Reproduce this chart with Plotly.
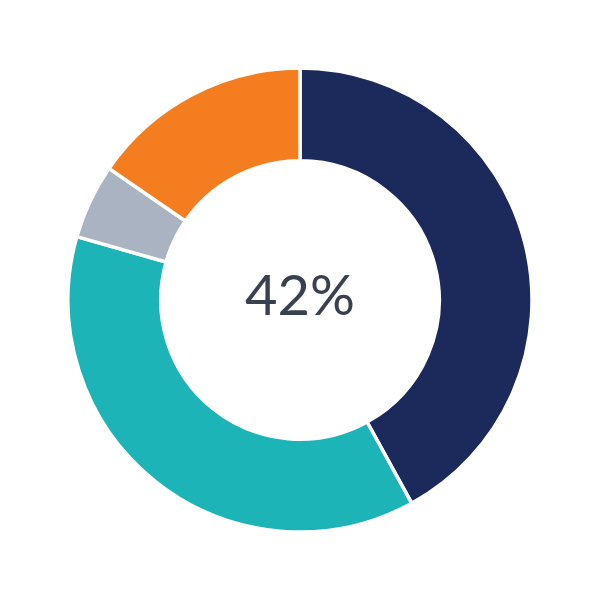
import plotly.graph_objects as go

labels = ["Navy", "Teal", "Gray", "Orange"]
values = [42, 37.4, 5.2, 15.4]
colors = ["#1b2a5b", "#1cb4b7", "#a9b3c2", "#f47d20"]
center_text = "42%"

fig = go.Figure(go.Pie(
    labels=labels,
    values=values,
    hole=0.6,
    sort=False,
    direction="clockwise",
    rotation=0,
    marker=dict(colors=colors, line=dict(color="white", width=3.5)),
    textinfo="none",
    hoverinfo="label+percent",
    showlegend=False,
))

fig.update_layout(
    width=600, height=600,
    margin=dict(l=60, r=76, t=60, b=76),
    paper_bgcolor="white",
    plot_bgcolor="white",
    annotations=[dict(
        text=center_text, x=0.5, y=0.5, xref="paper", yref="paper",
        showarrow=False, yshift=7,
        font=dict(family="Lato", size=56, color="#3a414e"),
    )],
)

fig.write_html("out.html")
